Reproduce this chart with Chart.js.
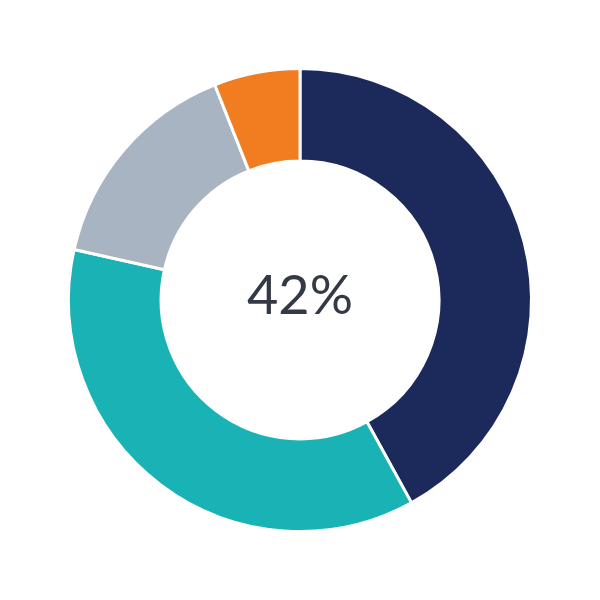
<!DOCTYPE html>
<html>
<head>
<meta charset="utf-8">
<script src="https://cdn.jsdelivr.net/npm/chart.js@4"></script>
<style>
html,body{margin:0;padding:0;background:#fff;}
#wrap{position:relative;width:600px;height:600px;}
</style>
</head>
<body>
<div id="wrap"><canvas id="c" width="600" height="600"></canvas></div>
<script>
const categories = ["Segment A", "Segment B", "Segment C", "Segment D"];
const values = [42, 36.5, 15.5, 6];
const colors = ["#1b2a5a", "#1ab3b5", "#a9b4c2", "#f27d20"];
const centerLabel = "42%";

const centerText = {
  id: 'centerText',
  afterDraw(chart) {
    const {ctx, chartArea} = chart;
    const cx = (chartArea.left + chartArea.right) / 2;
    const cy = (chartArea.top + chartArea.bottom) / 2;
    ctx.save();
    ctx.font = '400 54px Lato, "Open Sans", sans-serif';
    ctx.fillStyle = '#333a45';
    ctx.textAlign = 'center';
    ctx.textBaseline = 'middle';
    ctx.fillText(centerLabel, cx, cy - 3);
    ctx.restore();
  }
};

new Chart(document.getElementById('c'), {
  type: 'doughnut',
  data: {
    labels: categories,
    datasets: [{
      data: values,
      backgroundColor: colors,
      borderColor: '#ffffff',
      borderWidth: 3,
      hoverOffset: 0
    }]
  },
  options: {
    responsive: false,
    animation: false,
    cutout: '60%',
    layout: { padding: 67 },
    plugins: { legend: { display: false }, tooltip: { enabled: false } }
  },
  plugins: [centerText]
});
</script>
</body>
</html>
